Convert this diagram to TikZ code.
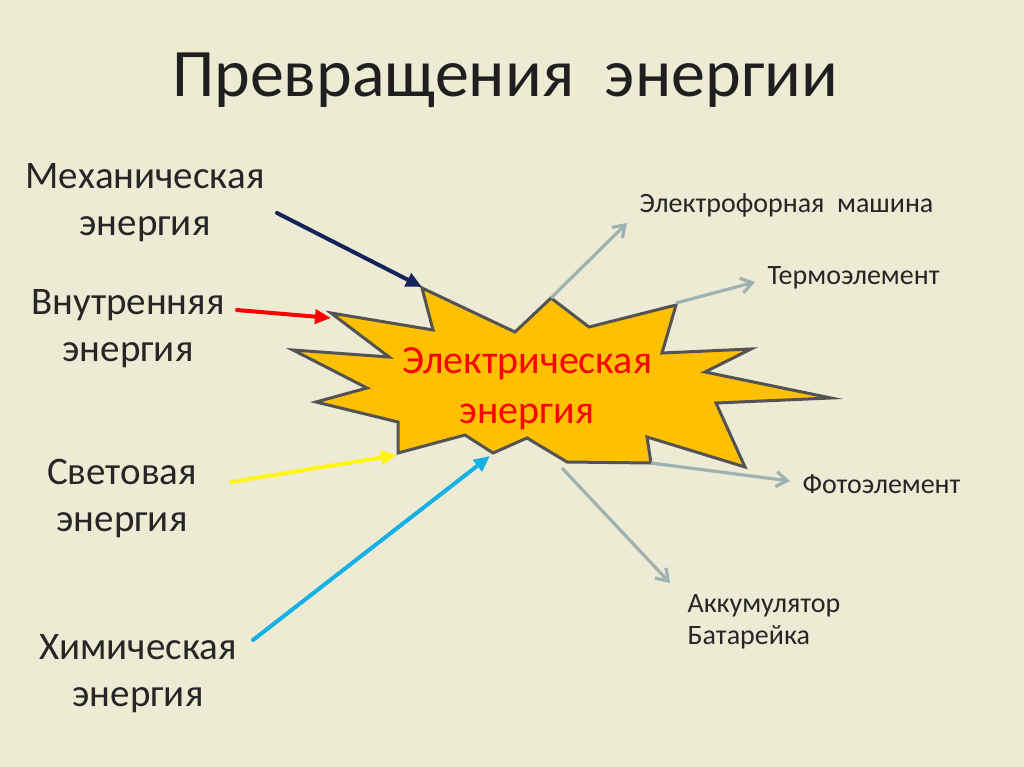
\documentclass[tikz,border=0pt]{standalone}
\usepackage{fontspec}
\setmainfont{Carlito}
\usetikzlibrary{arrows.meta}
\begin{document}
\begin{tikzpicture}[x=1pt,y=-1pt,
  lbl/.style={align=center,font=\fontsize{39}{47}\selectfont,text=black!85},
  sm/.style={align=left,anchor=west,font=\fontsize{28}{32}\selectfont,text=black!85},
  inar/.style={line width=4pt,-{Stealth[length=16pt,width=14pt,inset=0pt]},line cap=round},
  outar/.style={line width=3.2pt,draw=gray!75!teal!60!white,-{Straight Barb[length=11pt,width=15pt]}}]
\fill[fill={rgb,255:red,237;green,235;blue,212}] (0,0) rectangle (1024,767);
\useasboundingbox (0,0) rectangle (1024,767);
\node (title) at (505,80) {\fontsize{68}{70}\selectfont\color{black!88}Превращения\ \ энергии};
\filldraw[fill={rgb,255:red,255;green,192;blue,0},draw=gray!50!black!90,line width=3pt,line join=miter]
 (422,288)--(515,332)--(551,298)--(589,327)--(676,305)--(662,353)--(751,349)--(705,372)--(831,398)--(716,403)--(745,467)--(647,437)--(651,463)--(567,462)--(527,438)--(493,453)--(465,435)--(398,453)--(398,422)--(316,402)--(367,388)--(293,350)--(389,357)--(331,313)--(433,330)--cycle;
\node[align=center,text=red,font=\fontsize{40}{50}\selectfont] (el) at (527,389) {Электрическая\\энергия};
\coordinate (s1) at (422,287); \coordinate (s2) at (331,318); \coordinate (s3) at (397,455); \coordinate (s4) at (490,456);
\coordinate (o1) at (551,298); \coordinate (o2) at (676,303); \coordinate (o3) at (651,463); \coordinate (o4) at (562,468);
\node[lbl] (mech) at (145,203) {Механическая\\энергия};
\node[lbl] (vn) at (128,329) {Внутренняя\\энергия};
\node[lbl] (sv) at (122,498) {Световая\\энергия};
\node[lbl] (him) at (138,674) {Химическая\\энергия};
\coordinate (a1) at (277,213); \coordinate (a2) at (237,310); \coordinate (a3) at (231,482); \coordinate (a4) at (253,640);
\draw[inar,draw={rgb,255:red,20;green,35;blue,90}] (a1)--(s1);
\draw[inar,draw=red] (a2)--(s2);
\draw[inar,draw={rgb,255:red,255;green,245;blue,20}] (a3)--(s3);
\draw[inar,draw={rgb,255:red,20;green,176;blue,230}] (a4)--(s4);
\node[sm] (t1) at (636,205) {Электрофорная\ \ машина};
\node[sm] (t2) at (764,278) {Термоэлемент};
\node[sm] (t3) at (799,484) {Фотоэлемент};
\node[sm] (t4) at (684,622) {Аккумулятор\\Батарейка};
\coordinate (e1) at (627,223); \coordinate (e2) at (755,282); \coordinate (e3) at (790,481); \coordinate (e4) at (670,583);
\draw[outar] (o1)--(e1);
\draw[outar] (o2)--(e2);
\draw[outar] (o3)--(e3);
\draw[outar] (o4)--(e4);
\end{tikzpicture}
\end{document}
